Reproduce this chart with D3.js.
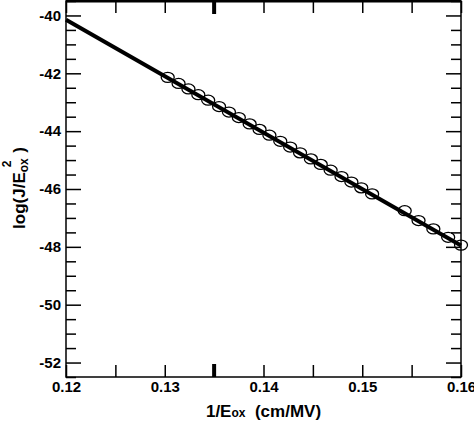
<!DOCTYPE html>
<html>
<head>
<meta charset="utf-8">
<script src="https://cdn.jsdelivr.net/npm/d3@7"></script>
<style>
  body { margin: 0; background: #fff; }
  svg { display: block; font-family: 'Liberation Sans', Arial, sans-serif; }
  .axis path { display: none; }
  .axis line { stroke: #000; stroke-width: 1.5; }
  .axis text { font-size: 15px; font-weight: bold; fill: #000; }
</style>
</head>
<body>
<div class="chart-container"></div>
<script>
// measured points (1/Eox, log(J/Eox^2))
const invField = [0.1303, 0.1314, 0.1324, 0.1334, 0.1344, 0.1355, 0.1365, 0.1375, 0.1386,
    0.1396, 0.1406, 0.1417, 0.1427, 0.1437, 0.1448, 0.1458, 0.1468, 0.1479, 0.1489,
    0.1499, 0.1510, 0.1543, 0.1557, 0.1572, 0.1587, 0.1600];
const logJ = [-42.14, -42.35, -42.54, -42.74, -42.93, -43.15, -43.34, -43.53, -43.75,
    -43.94, -44.14, -44.35, -44.55, -44.75, -44.96, -45.15, -45.35, -45.57, -45.76,
    -45.96, -46.17, -46.75, -47.09, -47.38, -47.67, -47.94];

// fitted line end points
const fitX = [0.12, 0.16];
const fitY = [-40.15, -47.95];

// ticks
const xMajor = [0.12, 0.13, 0.14, 0.15, 0.16];
const xMinor = [0.125, 0.135, 0.145, 0.155];
const xMarker = [0.135];
const yMajor = [-52, -50, -48, -46, -44, -42, -40];
const yMinor = [-51.5, -51, -50.5, -49.5, -49, -48.5, -47.5, -47, -46.5, -45.5, -45, -44.5,
    -43.5, -43, -42.5, -41.5, -41, -40.5, -39.5, -52.5];

const margin = { top: 1, right: 13, bottom: 47, left: 66 };
const width = 474 - margin.left - margin.right;
const height = 424 - margin.top - margin.bottom;

const xScale = d3.scaleLinear().domain([0.12, 0.16]).range([0, width]);
const yScale = d3.scaleLinear().domain([-52.5, -39.5]).range([height, 0]);

const svg = d3.select('.chart-container')
    .append('svg')
    .attr('width', 474)
    .attr('height', 424)
    .append('g')
    .attr('transform', `translate(${margin.left}, ${margin.top})`);

// axes: all ticks point inward
svg.append('g').attr('class', 'axis')
    .call(d3.axisLeft(yScale).tickValues(yMajor).tickSize(-15).tickPadding(5).tickFormat(d => String(d)));
svg.append('g').attr('class', 'axis')
    .call(d3.axisLeft(yScale).tickValues(yMinor).tickSize(-10).tickFormat(''));
svg.append('g').attr('class', 'axis')
    .attr('transform', `translate(${width}, 0)`)
    .call(d3.axisRight(yScale).tickValues(yMajor).tickSize(-15).tickFormat(''));
svg.append('g').attr('class', 'axis')
    .attr('transform', `translate(${width}, 0)`)
    .call(d3.axisRight(yScale).tickValues(yMinor).tickSize(-10).tickFormat(''));

svg.append('g').attr('class', 'axis')
    .attr('transform', `translate(0, ${height})`)
    .call(d3.axisBottom(xScale).tickValues(xMajor).tickSize(-12).tickPadding(4).tickFormat(d3.format('.2f')));
svg.append('g').attr('class', 'axis')
    .attr('transform', `translate(0, ${height})`)
    .call(d3.axisBottom(xScale).tickValues(xMinor).tickSize(-12).tickFormat(''));
svg.append('g').attr('class', 'axis')
    .call(d3.axisTop(xScale).tickValues(xMajor.concat(xMinor)).tickSize(-12).tickFormat(''));

// thick marker ticks at 0.135
svg.append('g')
    .selectAll('.marker')
    .data(xMarker.flatMap(d => [{ x: d, top: true }, { x: d, top: false }]))
    .enter()
    .append('line')
    .attr('x1', d => xScale(d.x))
    .attr('x2', d => xScale(d.x))
    .attr('y1', d => d.top ? 0 : height)
    .attr('y2', d => d.top ? 13 : height - 13)
    .attr('stroke', '#000')
    .attr('stroke-width', 4);

// frame
svg.append('rect')
    .attr('width', width)
    .attr('height', height)
    .attr('fill', 'none')
    .attr('stroke', '#000')
    .attr('stroke-width', 1.5);
svg.append('line')
    .attr('x1', 0).attr('x2', width).attr('y1', 0).attr('y2', 0)
    .attr('stroke', '#000').attr('stroke-width', 3);

// data points
svg.append('g')
    .selectAll('ellipse')
    .data(invField.map((d, i) => ({ x: d, y: logJ[i] })))
    .enter()
    .append('ellipse')
    .attr('cx', d => xScale(d.x))
    .attr('cy', d => yScale(d.y))
    .attr('rx', 6.5)
    .attr('ry', 5)
    .attr('fill', 'none')
    .attr('stroke', '#000')
    .attr('stroke-width', 1.3);

// fit line
const line = d3.line().x(d => xScale(d[0])).y(d => yScale(d[1]));
svg.append('path')
    .datum(fitX.map((d, i) => [d, fitY[i]]))
    .attr('d', line)
    .attr('fill', 'none')
    .attr('stroke', '#000')
    .attr('stroke-width', 4);

// axis titles
const xTitle = svg.append('text')
    .attr('x', xScale(0.14))
    .attr('y', height + 40)
    .attr('text-anchor', 'middle')
    .attr('font-weight', 'bold')
    .attr('font-size', 17);
xTitle.append('tspan').text('1/E');
xTitle.append('tspan').text('ox').attr('font-size', 12);
xTitle.append('tspan').text('\u00a0 (cm/MV)');

const yTitle = svg.append('text')
    .attr('transform', `translate(${-41}, 187) rotate(-90)`)
    .attr('text-anchor', 'middle')
    .attr('font-weight', 'bold')
    .attr('font-size', 17);
yTitle.append('tspan').text('log(J/E');
yTitle.append('tspan').text('ox').attr('font-size', 12).attr('dy', 3);
yTitle.append('tspan').text('2').attr('font-size', 12).attr('dx', -9).attr('dy', -17);
yTitle.append('tspan').text('\u00a0)').attr('dx', 3).attr('dy', 14);
</script>
</body>
</html>
